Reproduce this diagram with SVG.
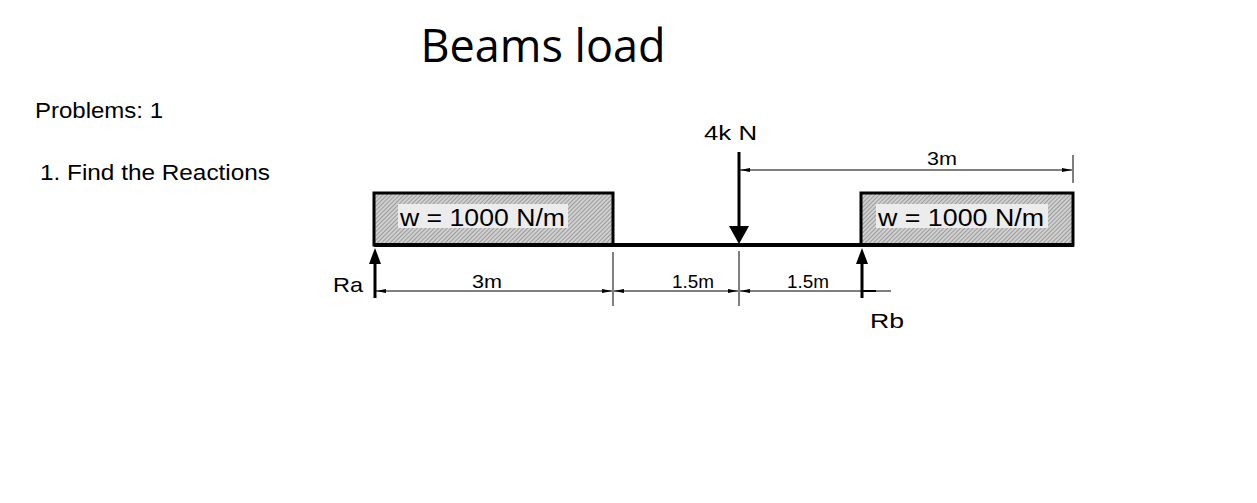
<svg xmlns="http://www.w3.org/2000/svg" width="1257" height="503" viewBox="0 0 1257 503">
<defs>
<pattern id="h" width="3" height="3" patternUnits="userSpaceOnUse" patternTransform="rotate(45)"><rect width="3" height="3" fill="#d0d0d0"/><line x1="0" y1="0" x2="0" y2="3" stroke="#666" stroke-width="1"/></pattern>
<marker id="ar" viewBox="0 0 10 4" refX="10" refY="2" markerWidth="10" markerHeight="4" markerUnits="userSpaceOnUse" orient="auto-start-reverse"><path d="M0,0L10,2L0,4z" fill="#000"/></marker>
</defs>
<style>
.t{font-family:"Liberation Sans",Arial,sans-serif;fill:#000}
.d{stroke:#000;stroke-width:1;fill:none}
</style>
<rect width="1257" height="503" fill="#fff"/>
<text x="543" y="62" class="t" style="font-family:'Open Sans',sans-serif;font-weight:500" font-size="45" text-anchor="middle">Beams load</text>
<text x="35" y="118" class="t" font-size="22" textLength="128" lengthAdjust="spacingAndGlyphs">Problems: 1</text>
<text x="40" y="180" class="t" font-size="22" textLength="230" lengthAdjust="spacingAndGlyphs">1. Find the Reactions</text>
<g id="loadLeft">
<rect x="374" y="193" width="239" height="52" fill="url(#h)" stroke="#000" stroke-width="3"/>
<rect x="398" y="204" width="170" height="24" fill="#ececec"/>
<text x="400" y="226" class="t" font-size="23" textLength="165" lengthAdjust="spacingAndGlyphs">w = 1000 N/m</text>
</g>
<g id="loadRight">
<rect x="861" y="193" width="212" height="52" fill="url(#h)" stroke="#000" stroke-width="3"/>
<rect x="876" y="204" width="172" height="24" fill="#ececec"/>
<text x="878" y="226" class="t" font-size="23" textLength="166" lengthAdjust="spacingAndGlyphs">w = 1000 N/m</text>
</g>
<g id="beam"><line x1="374" y1="245" x2="1074" y2="245" stroke="#000" stroke-width="4"/></g>
<g id="connectors">
<line x1="739" y1="152" x2="739" y2="228" stroke="#000" stroke-width="3"/>
<path d="M729,226L749,226L739,244z" fill="#000"/>
<line x1="375" y1="298" x2="375" y2="262" stroke="#000" stroke-width="3"/>
<path d="M369,264L381,264L375,248z" fill="#000"/>
<line x1="862" y1="298" x2="862" y2="262" stroke="#000" stroke-width="3"/>
<path d="M856,264L868,264L862,248z" fill="#000"/>
<line x1="613" y1="252" x2="613" y2="306" class="d"/>
<line x1="739" y1="251" x2="739" y2="306" class="d"/>
<line x1="1073" y1="155" x2="1073" y2="183" class="d"/>
<line x1="376" y1="291" x2="612" y2="291" class="d" marker-start="url(#ar)" marker-end="url(#ar)"/>
<line x1="614" y1="291" x2="738" y2="291" class="d" marker-start="url(#ar)" marker-end="url(#ar)"/>
<line x1="740" y1="291" x2="891" y2="291" class="d" marker-start="url(#ar)"/>
<line x1="862" y1="291" x2="876" y2="291" stroke="#000" stroke-width="2"/>
<line x1="740" y1="170" x2="1072" y2="170" class="d" marker-start="url(#ar)" marker-end="url(#ar)"/>
</g>
<text x="704" y="140" class="t" font-size="21" textLength="53" lengthAdjust="spacingAndGlyphs">4k N</text>
<text x="927" y="165" class="t" font-size="18" textLength="30" lengthAdjust="spacingAndGlyphs">3m</text>
<text x="472" y="288" class="t" font-size="18" textLength="30" lengthAdjust="spacingAndGlyphs">3m</text>
<text x="672" y="288" class="t" font-size="18" textLength="42" lengthAdjust="spacingAndGlyphs">1.5m</text>
<text x="787" y="288" class="t" font-size="18" textLength="42" lengthAdjust="spacingAndGlyphs">1.5m</text>
<text x="333" y="292" class="t" font-size="21" textLength="30" lengthAdjust="spacingAndGlyphs">Ra</text>
<text x="870" y="328" class="t" font-size="21" textLength="34" lengthAdjust="spacingAndGlyphs">Rb</text>
</svg>
